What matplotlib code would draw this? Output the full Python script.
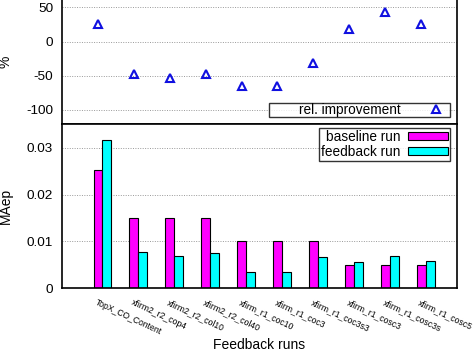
import numpy as np
import matplotlib as mpl
mpl.use("Agg")
from matplotlib import pyplot as plt

plt.rcParams["font.family"] = ["Liberation Sans", "DejaVu Sans"]
plt.rcParams["axes.unicode_minus"] = False

runs = ["TopX_CO_Content", "xfirm2_r2_cop4", "xfirm2_r2_col10", "xfirm2_r2_col40",
        "xfirm_r1_coc10", "xfirm_r1_coc3", "xfirm_r1_coc3s3", "xfirm_r1_cosc3",
        "xfirm_r1_cosc3s", "xfirm_r1_cosc5"]
rel_improvement = [26, -47, -53, -47, -65, -65, -32, 19, 43, 26]
baseline = [0.0253, 0.015, 0.015, 0.015, 0.010, 0.010, 0.010, 0.0049, 0.0049, 0.0049]
feedback = [0.0317, 0.0077, 0.0069, 0.0076, 0.0034, 0.0034, 0.0066, 0.0056, 0.0068, 0.0059]

x = np.arange(len(runs))
grid_kw = dict(color="#999999", linestyle=(0, (1, 1.5)), linewidth=0.7)

fig = plt.figure(figsize=(4.74, 3.54), dpi=100)
ax_top = fig.add_axes((0.131, 0.650, 0.833, 0.352))
ax_bot = fig.add_axes((0.131, 0.186, 0.833, 0.464))

# top panel: relative improvement
ax_top.plot(x, rel_improvement, linestyle="none", marker="^", markersize=6,
            markerfacecolor="none", markeredgecolor="#1010e0", markeredgewidth=1.5,
            label="rel. improvement")
ax_top.set_xlim(-1, 10)
ax_top.set_ylim(-121, 62)
ax_top.set_yticks([50, 0, -50, -100])
ax_top.set_xticks([])
ax_top.yaxis.grid(True, **grid_kw)
ax_top.set_ylabel("%", fontsize=10)
leg = ax_top.legend(loc="lower right", fontsize=9.8, frameon=True, fancybox=False,
                    edgecolor="black", borderpad=0.0, borderaxespad=0.0,
                    handlelength=2.0, handletextpad=1.6, markerfirst=False,
                    bbox_to_anchor=(0.982, 0.056))
leg.get_frame().set_linewidth(1.0)
# pad the left side of the key box like the original
leg.get_texts()[0].set_text("        rel. improvement")

# bottom panel: MAep bars
w = 0.25
ax_bot.bar(x, baseline, width=w, color="#ff00ff", edgecolor="black",
           linewidth=0.8, label="baseline run")
ax_bot.bar(x + w, feedback, width=w, color="#00ffff", edgecolor="black",
           linewidth=0.8, label="feedback run")
ax_bot.set_xlim(-1, 10)
ax_bot.set_ylim(0, 0.0351)
ax_bot.set_yticks([0, 0.01, 0.02, 0.03])
ax_bot.set_yticklabels(["0", "0.01", "0.02", "0.03"])
ax_bot.yaxis.grid(True, **grid_kw)
ax_bot.set_axisbelow(True)
ax_bot.set_xticks(x)
ax_bot.set_xticklabels(runs, rotation=-25, ha="left", va="top",
                       rotation_mode="anchor", fontsize=6.2)
ax_bot.tick_params(axis="x", length=0, pad=7)
ax_bot.set_ylabel("MAep", fontsize=10)
ax_bot.set_xlabel("Feedback runs", fontsize=10, labelpad=1)
leg2 = ax_bot.legend(loc="upper right", fontsize=9.8, frameon=True, fancybox=False,
                     edgecolor="black", borderpad=0.15, borderaxespad=0.0,
                     labelspacing=0.05, handlelength=2.9, handleheight=0.55,
                     handletextpad=0.6, markerfirst=False,
                     bbox_to_anchor=(0.982, 0.976))
leg2.get_frame().set_linewidth(1.0)

for ax in (ax_top, ax_bot):
    for s in ax.spines.values():
        s.set_linewidth(1.2)
    ax.tick_params(axis="y", labelsize=9.7, length=0, pad=6.5)
    ax.yaxis.set_label_coords(-0.125, 0.5)

fig.savefig("out.png", dpi=100)
